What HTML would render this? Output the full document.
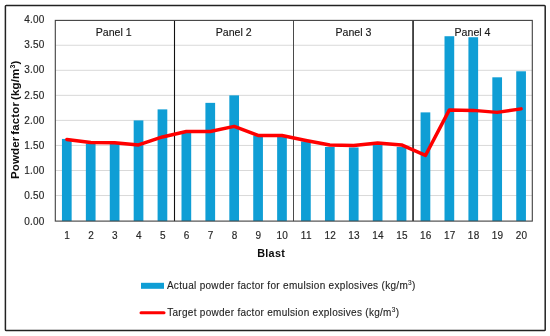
<!DOCTYPE html>
<html><head><meta charset="utf-8"><style>
html,body{margin:0;padding:0;background:#fff;}
body{width:550px;height:336px;overflow:hidden;}
svg{display:block;}
.t{font-family:"Liberation Sans",Arial,sans-serif;font-size:10px;fill:#262626;letter-spacing:0.25px;stroke:#262626;stroke-width:0.15px;}
.p{font-family:"Liberation Sans",Arial,sans-serif;font-size:10.6px;fill:#1a1a1a;stroke:#1a1a1a;stroke-width:0.15px;}
.b{font-family:"Liberation Sans",Arial,sans-serif;font-size:10.8px;font-weight:bold;fill:#0d0d0d;letter-spacing:0.33px;}
.yt{font-family:"Liberation Sans",Arial,sans-serif;font-size:11.5px;font-weight:bold;fill:#0d0d0d;letter-spacing:0.15px;word-spacing:-1.5px;}
.l{font-family:"Liberation Sans",Arial,sans-serif;font-size:10px;fill:#1f1f1f;letter-spacing:0.28px;stroke:#1f1f1f;stroke-width:0.12px;}
</style></head><body>
<svg width="550" height="336" viewBox="0 0 550 336">
<rect x="0" y="0" width="550" height="336" fill="#fff"/>
<rect x="5.4" y="5.5" width="539.8" height="325.1" rx="0.8" fill="none" stroke="#222" stroke-width="1.5"/>
<line x1="55.3" x2="532.3" y1="195.55" y2="195.55" stroke="#d9d9d9" stroke-width="1"/>
<line x1="55.3" x2="532.3" y1="170.50" y2="170.50" stroke="#d9d9d9" stroke-width="1"/>
<line x1="55.3" x2="532.3" y1="145.45" y2="145.45" stroke="#d9d9d9" stroke-width="1"/>
<line x1="55.3" x2="532.3" y1="120.40" y2="120.40" stroke="#d9d9d9" stroke-width="1"/>
<line x1="55.3" x2="532.3" y1="95.35" y2="95.35" stroke="#d9d9d9" stroke-width="1"/>
<line x1="55.3" x2="532.3" y1="70.30" y2="70.30" stroke="#d9d9d9" stroke-width="1"/>
<line x1="55.3" x2="532.3" y1="45.25" y2="45.25" stroke="#d9d9d9" stroke-width="1"/>
<rect x="61.95" y="138.94" width="9.7" height="82.16" fill="#0f9ed5"/>
<rect x="85.86" y="143.45" width="9.7" height="77.65" fill="#0f9ed5"/>
<rect x="109.77" y="143.95" width="9.7" height="77.15" fill="#0f9ed5"/>
<rect x="133.68" y="120.40" width="9.7" height="100.70" fill="#0f9ed5"/>
<rect x="157.59" y="109.38" width="9.7" height="111.72" fill="#0f9ed5"/>
<rect x="181.50" y="132.42" width="9.7" height="88.68" fill="#0f9ed5"/>
<rect x="205.41" y="102.86" width="9.7" height="118.24" fill="#0f9ed5"/>
<rect x="229.32" y="95.35" width="9.7" height="125.75" fill="#0f9ed5"/>
<rect x="253.23" y="135.43" width="9.7" height="85.67" fill="#0f9ed5"/>
<rect x="277.14" y="136.43" width="9.7" height="84.67" fill="#0f9ed5"/>
<rect x="301.05" y="141.44" width="9.7" height="79.66" fill="#0f9ed5"/>
<rect x="324.96" y="146.95" width="9.7" height="74.15" fill="#0f9ed5"/>
<rect x="348.87" y="147.45" width="9.7" height="73.65" fill="#0f9ed5"/>
<rect x="372.78" y="144.95" width="9.7" height="76.15" fill="#0f9ed5"/>
<rect x="396.69" y="146.95" width="9.7" height="74.15" fill="#0f9ed5"/>
<rect x="420.60" y="112.38" width="9.7" height="108.72" fill="#0f9ed5"/>
<rect x="444.51" y="36.23" width="9.7" height="184.87" fill="#0f9ed5"/>
<rect x="468.42" y="37.23" width="9.7" height="183.87" fill="#0f9ed5"/>
<rect x="492.33" y="77.31" width="9.7" height="143.79" fill="#0f9ed5"/>
<rect x="516.24" y="71.30" width="9.7" height="149.80" fill="#0f9ed5"/>
<line x1="174.50" x2="174.50" y1="20.3" y2="221.1" stroke="#111" stroke-width="1.1"/>
<line x1="293.50" x2="293.50" y1="20.3" y2="221.1" stroke="#4a4a4a" stroke-width="1.0"/>
<line x1="413.05" x2="413.05" y1="20.3" y2="221.1" stroke="#000" stroke-width="1.4"/>
<rect x="55.3" y="20.4" width="477.00" height="200.70" fill="none" stroke="#404040" stroke-width="1.1"/>
<polyline points="66.80,139.44 90.71,142.44 114.62,142.69 138.53,144.95 162.44,136.93 186.35,131.42 210.26,131.42 234.17,126.41 258.08,135.43 281.99,135.43 305.90,140.44 329.81,144.95 353.72,145.45 377.63,142.94 401.54,144.95 425.45,155.47 449.36,109.88 473.27,110.38 497.18,112.38 521.09,108.88" fill="none" stroke="#ff0000" stroke-width="3.5" stroke-linejoin="round" stroke-linecap="round"/>
<text x="44.7" y="224.50" text-anchor="end" class="t">0.00</text>
<text x="44.7" y="199.32" text-anchor="end" class="t">0.50</text>
<text x="44.7" y="174.15" text-anchor="end" class="t">1.00</text>
<text x="44.7" y="148.97" text-anchor="end" class="t">1.50</text>
<text x="44.7" y="123.80" text-anchor="end" class="t">2.00</text>
<text x="44.7" y="98.62" text-anchor="end" class="t">2.50</text>
<text x="44.7" y="73.45" text-anchor="end" class="t">3.00</text>
<text x="44.7" y="48.28" text-anchor="end" class="t">3.50</text>
<text x="44.7" y="23.10" text-anchor="end" class="t">4.00</text>
<text x="67.20" y="238.7" text-anchor="middle" class="t">1</text>
<text x="91.11" y="238.7" text-anchor="middle" class="t">2</text>
<text x="115.02" y="238.7" text-anchor="middle" class="t">3</text>
<text x="138.93" y="238.7" text-anchor="middle" class="t">4</text>
<text x="162.84" y="238.7" text-anchor="middle" class="t">5</text>
<text x="186.75" y="238.7" text-anchor="middle" class="t">6</text>
<text x="210.66" y="238.7" text-anchor="middle" class="t">7</text>
<text x="234.57" y="238.7" text-anchor="middle" class="t">8</text>
<text x="258.48" y="238.7" text-anchor="middle" class="t">9</text>
<text x="282.39" y="238.7" text-anchor="middle" class="t">10</text>
<text x="306.30" y="238.7" text-anchor="middle" class="t">11</text>
<text x="330.21" y="238.7" text-anchor="middle" class="t">12</text>
<text x="354.12" y="238.7" text-anchor="middle" class="t">13</text>
<text x="378.03" y="238.7" text-anchor="middle" class="t">14</text>
<text x="401.94" y="238.7" text-anchor="middle" class="t">15</text>
<text x="425.85" y="238.7" text-anchor="middle" class="t">16</text>
<text x="449.76" y="238.7" text-anchor="middle" class="t">17</text>
<text x="473.67" y="238.7" text-anchor="middle" class="t">18</text>
<text x="497.58" y="238.7" text-anchor="middle" class="t">19</text>
<text x="521.49" y="238.7" text-anchor="middle" class="t">20</text>
<text x="113.70" y="35.6" text-anchor="middle" class="p">Panel 1</text>
<text x="233.70" y="35.6" text-anchor="middle" class="p">Panel 2</text>
<text x="353.40" y="35.6" text-anchor="middle" class="p">Panel 3</text>
<text x="472.50" y="35.6" text-anchor="middle" class="p">Panel 4</text>
<text x="271.2" y="256.5" text-anchor="middle" class="b">Blast</text>
<text transform="translate(19.4,119.8) rotate(-90)" text-anchor="middle" class="yt">Powder factor (kg/m<tspan font-size="7" dy="-4.3">3</tspan><tspan dy="4.3">)</tspan></text>
<rect x="141" y="282.8" width="23" height="6" fill="#0f9ed5"/>
<text x="166.9" y="289.1" class="l" id="lg1" style="letter-spacing:0.31px">Actual powder factor for emulsion explosives (kg/m<tspan font-size="6.5" dy="-4">3</tspan><tspan dy="4">)</tspan></text>
<line x1="141" x2="164" y1="312.8" y2="312.8" stroke="#ff0000" stroke-width="3" stroke-linecap="round"/>
<text x="167.2" y="315.7" class="l" id="lg2" style="letter-spacing:0.29px">Target powder factor emulsion explosives (kg/m<tspan font-size="6.5" dy="-4">3</tspan><tspan dy="4">)</tspan></text>
</svg>
</body></html>
